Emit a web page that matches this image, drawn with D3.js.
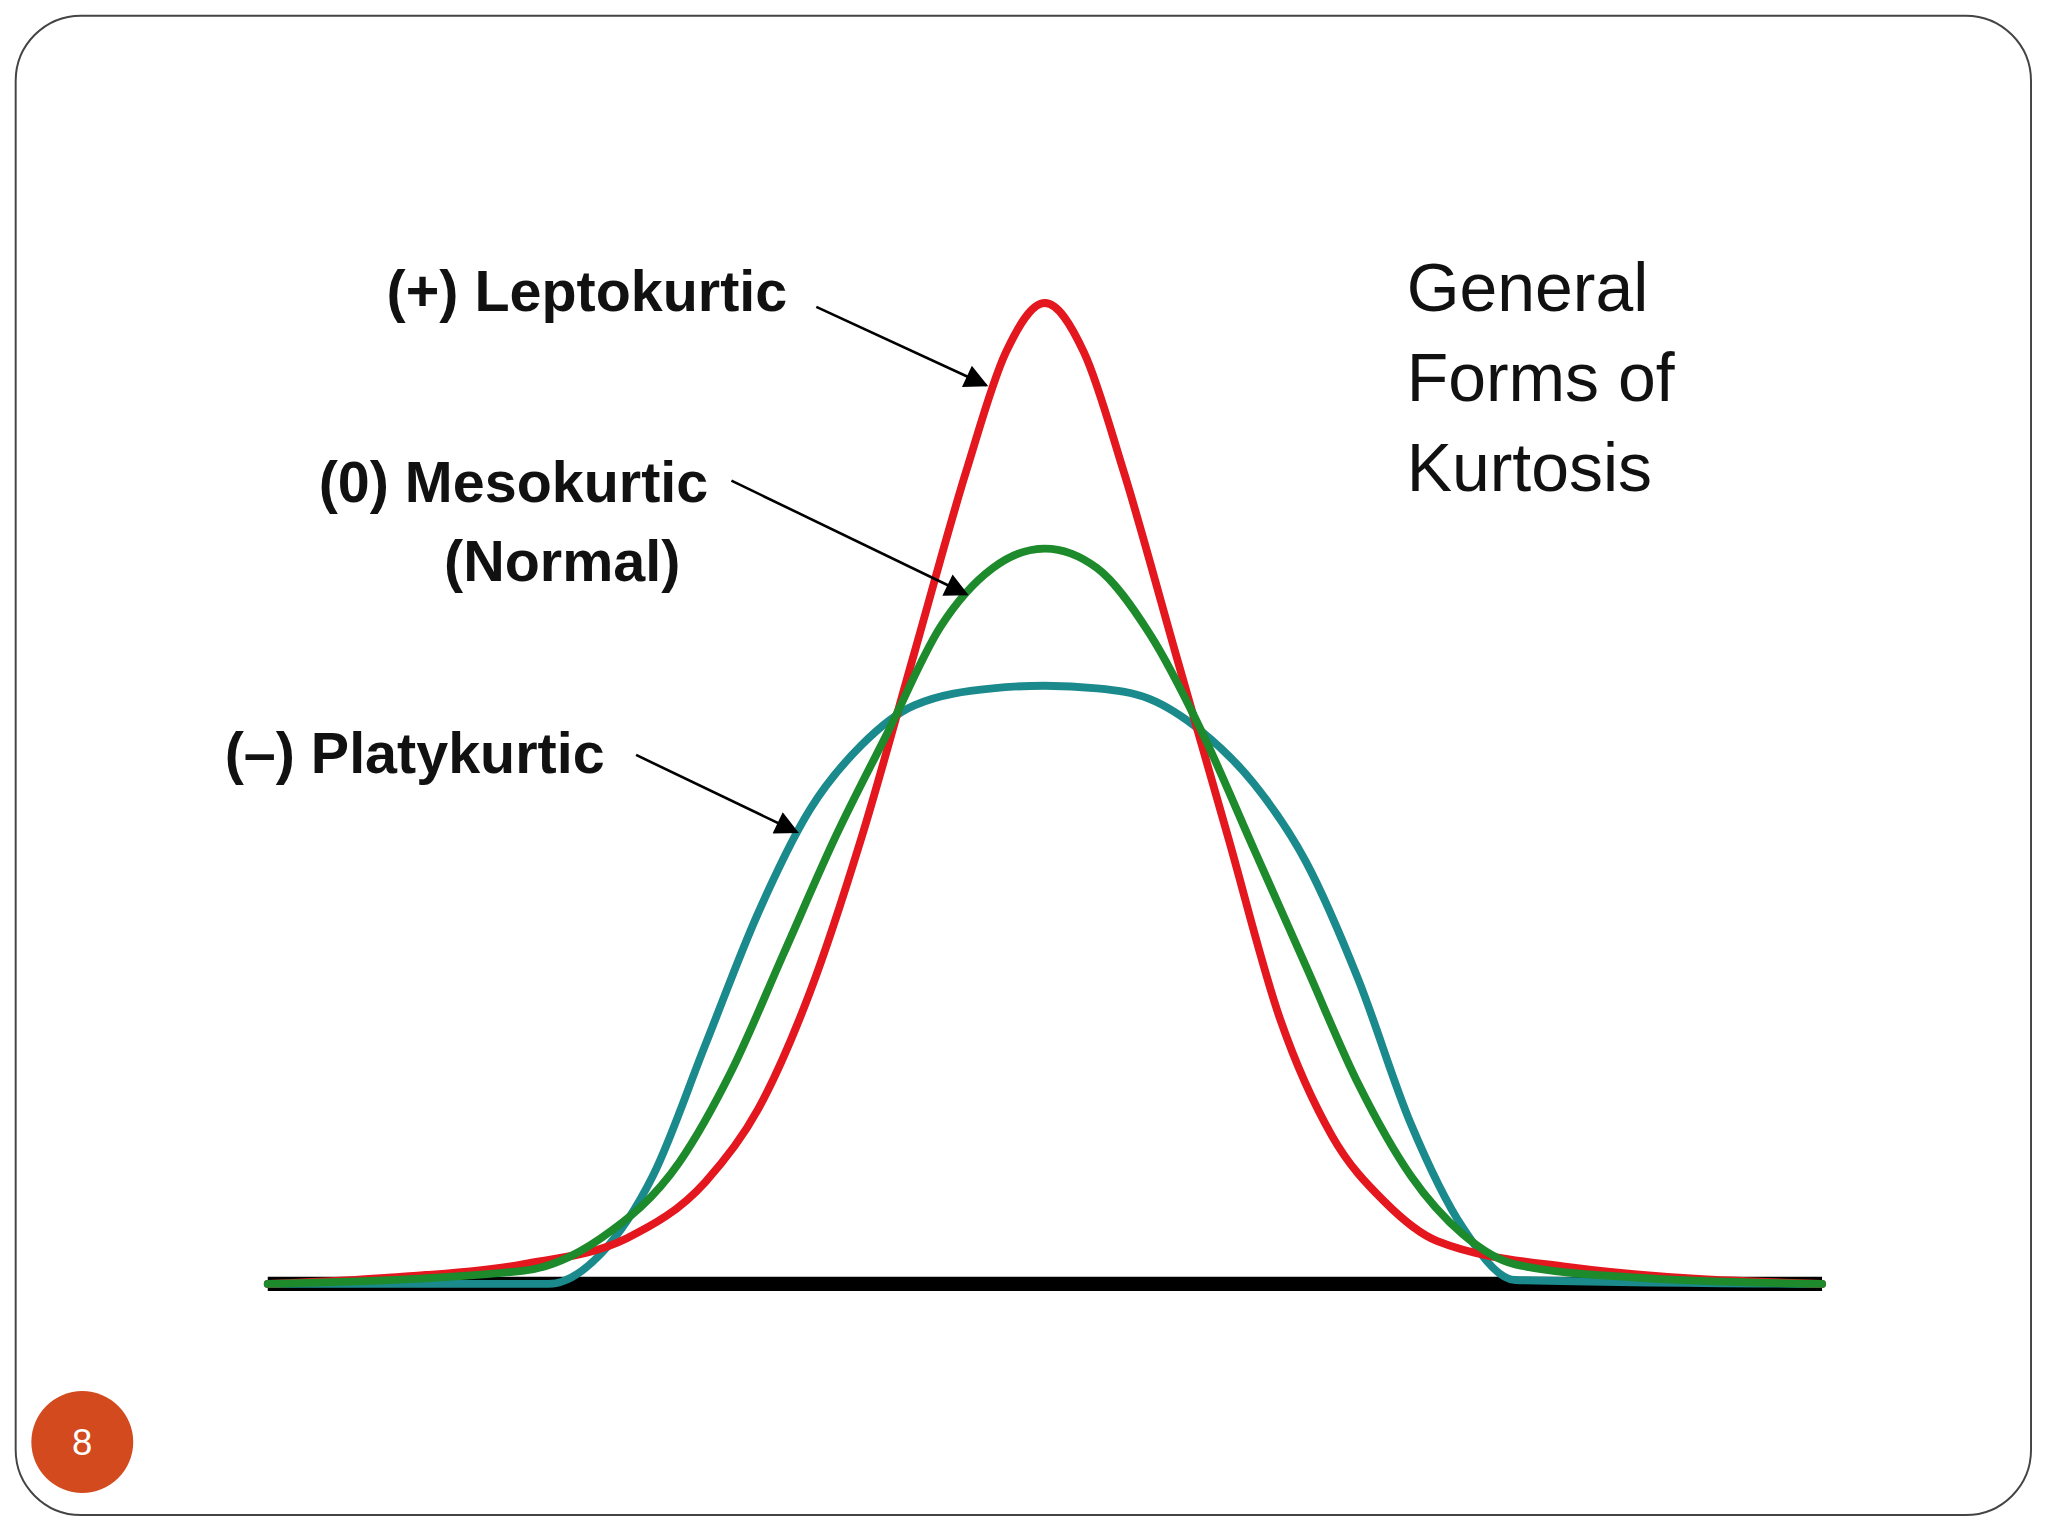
<!DOCTYPE html>
<html><head><meta charset="utf-8">
<script src="https://cdn.jsdelivr.net/npm/d3@7"></script>
<style>body{margin:0;background:#fff}svg{display:block}</style>
</head><body>
<svg width="2048" height="1536" viewBox="0 0 1568 1176"></svg>
<script>
// x positions relative to the centre of the curves, heights above baseline
const xLepto = [-595,-500,-400,-320,-260,-220,-180,-140,-100,-60,-30,0,30,60,100,140,180,220,260,300,400,595];
const yLepto = [0,5,15,35,78,133,223,343,483,623,713,751,713,623,483,343,203,113,63,33,13,0];
const xMeso = [-595,-400,-340,-280,-240,-200,-160,-120,-80,-40,0,40,80,120,160,200,240,280,320,360,450,595];
const yMeso = [0,10,35,93,163,253,343,423,503,548,563,548,498,423,333,243,153,83,38,15,5,0];
const xPlaty = [-595,-380,-340,-300,-260,-220,-180,-140,-100,-40,0,40,80,120,160,200,240,280,320,360,595];
const yPlaty = [0,0,23,83,183,283,363,413,443,456,458,456,448,423,383,323,233,123,43,3,0];

const svg = d3.select("svg");

svg.append("rect").attr("x", 12).attr("y", 12).attr("width", 1543).attr("height", 1148)
    .attr("rx", 50).attr("fill", "#fff").attr("stroke", "#444").attr("stroke-width", 1.5);

const x = d3.scaleLinear().domain([-595, 595]).range([205, 1395]);
const y = d3.scaleLinear().domain([0, 800]).range([983, 183]);

svg.append("line").attr("x1", x(-595)).attr("x2", x(595)).attr("y1", y(0)).attr("y2", y(0))
    .attr("stroke", "#000").attr("stroke-width", 11);

const line = d3.line().x(d => x(d[0])).y(d => y(d[1])).curve(d3.curveMonotoneX);
const series = [
    {xs: xPlaty, ys: yPlaty, color: "#1b8a8c"},
    {xs: xLepto, ys: yLepto, color: "#e4161e"},
    {xs: xMeso, ys: yMeso, color: "#1d8a2c"}
];
series.forEach(s => {
    svg.append("path").attr("d", line(d3.zip(s.xs, s.ys)))
        .attr("fill", "none").attr("stroke", s.color).attr("stroke-width", 6)
        .attr("stroke-linejoin", "round").attr("stroke-linecap", "round");
});

// arrows
svg.append("defs").append("marker").attr("id", "ah").attr("viewBox", "0 0 10 10")
    .attr("refX", 9).attr("refY", 5).attr("markerWidth", 8).attr("markerHeight", 8)
    .attr("orient", "auto").attr("markerUnits", "userSpaceOnUse")
    .append("path").attr("d", "M0,0L10,5L0,10z").attr("fill", "#000");
svg.select("marker").attr("markerWidth", 22).attr("markerHeight", 18);
const arrows = [[625, 235, 755, 295], [560, 368, 740, 455], [487, 578, 610, 637]];
arrows.forEach(a => svg.append("line").attr("x1", a[0]).attr("y1", a[1]).attr("x2", a[2]).attr("y2", a[3])
    .attr("stroke", "#000").attr("stroke-width", 2).attr("marker-end", "url(#ah)"));

const lab = (t, px, py) => svg.append("text").attr("x", px).attr("y", py)
    .attr("font-family", "Liberation Sans Narrow, Liberation Sans, Arial").attr("font-weight", "bold")
    .attr("font-size", 44).attr("fill", "#111").text(t);
lab("(+) Leptokurtic", 296, 238);
lab("(0) Mesokurtic", 244, 384);
lab("(Normal)", 340, 445);
lab("(\u2013) Platykurtic", 172, 592);

["General", "Forms of", "Kurtosis"].forEach((t, i) => svg.append("text")
    .attr("x", 1077).attr("y", 238 + i * 69).attr("font-family", "Liberation Sans, Arial")
    .attr("font-size", 52).attr("fill", "#111").text(t));

svg.append("circle").attr("cx", 63).attr("cy", 1104).attr("r", 39).attr("fill", "#d24a1e");
svg.append("text").attr("x", 63).attr("y", 1114).attr("text-anchor", "middle")
    .attr("font-family", "Liberation Sans, Arial").attr("font-size", 28).attr("fill", "#fff").text("8");
</script>
</body></html>
